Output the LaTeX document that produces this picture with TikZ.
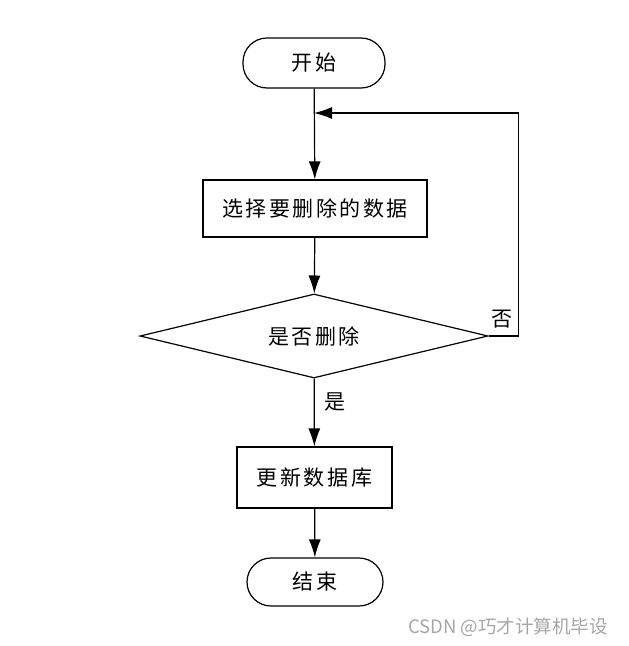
\documentclass[tikz,border=0pt]{standalone}
\usepackage{fontspec}
\setmainfont{Noto Sans CJK SC}
\newfontfamily\cjk[LetterSpace=12]{Noto Sans CJK SC}
\usetikzlibrary{shapes.geometric,arrows.meta}
\begin{document}
\begin{tikzpicture}[x=1pt,y=-1pt,
    every node/.style={font=\cjk\fontsize{21}{21}\selectfont},
    term/.style={draw,line width=1.2pt,rounded corners=24pt,inner sep=0pt},
    proc/.style={draw,line width=1.2pt,inner sep=0pt},
    decide/.style={draw,diamond,line width=1.2pt,aspect=4.14,inner sep=0pt,minimum width=348pt,minimum height=84pt},
    flow/.style={-{Latex[length=18pt,width=12pt]},line width=1.2pt}]
    \useasboundingbox (0,0) rectangle (629,646);
    \node[term,minimum width=142pt,minimum height=50pt] (start) at (314,63) {开始};
    \node[proc,minimum width=224pt,minimum height=57pt] (pick) at (315,208.5) {选择要删除的数据};
    \node[decide] (ask) at (314,336) {是否删除};
    \node[proc,minimum width=155pt,minimum height=61pt] (update) at (314.5,477.5) {更新数据库};
    \node[term,minimum width=136pt,minimum height=48pt] (stop) at (315,582) {结束};
    \coordinate (merge) at (314,113);
    \draw[flow] (start) -- (pick);
    \draw[flow] (pick) -- (ask);
    \draw[flow] (ask) -- node[right=6pt,pos=0.35] (yes) {是} (update);
    \draw[flow] (update) -- (stop);
    \draw[flow] (ask.east) -- ++(30,0) |- (merge);
    \node[anchor=south] (no) at (502,332) {否};
    \node[text=black!35,font=\fontsize{18.5}{18.5}\selectfont] (mark) at (508,627) {CSDN @巧才计算机毕设};
\end{tikzpicture}
\end{document}
